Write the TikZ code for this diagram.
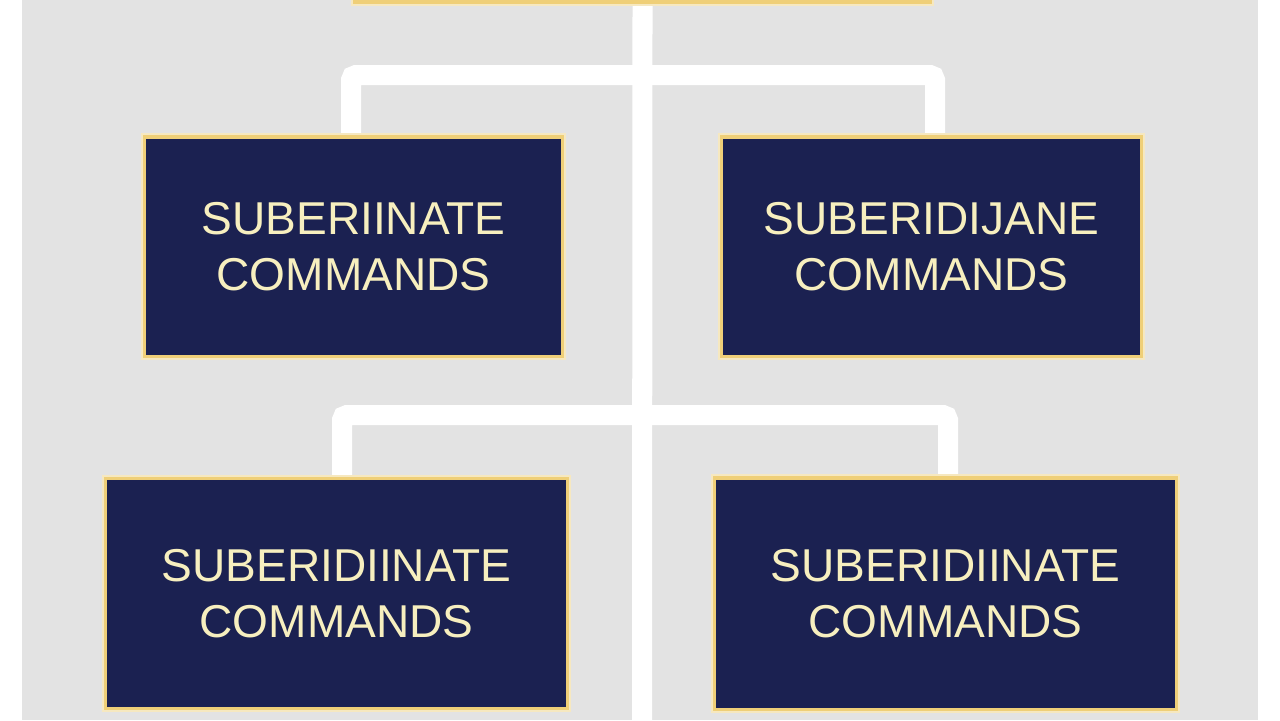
\documentclass[tikz,border=0pt]{standalone}
\usepackage{fontspec}
\setmainfont{Liberation Sans}
\definecolor{panel}{HTML}{E3E3E3}
\definecolor{navy}{HTML}{1B2151}
\definecolor{gold}{HTML}{EFCF78}
\definecolor{goldpale}{HTML}{F6E8C0}
\definecolor{cream}{HTML}{F7EFBF}
\pgfdeclarelayer{bg}
\pgfdeclarelayer{links}
\pgfsetlayers{bg,links,main}
\tikzset{
  box/.style={rectangle, fill=navy, draw=gold, line width=0.9pt,
    preaction={draw=goldpale, line width=2.2pt},
    inner sep=0pt, outer sep=0pt, align=center, text=cream,
    font=\fontsize{13.1}{15.8}\selectfont},
  conn/.style={draw=white, line width=0.2cm, rounded corners=0.05cm, line cap=butt}
}
\begin{document}
\begin{tikzpicture}[x=0.01cm, y=-0.01cm]
\useasboundingbox (0,0) rectangle (1280,720);
\clip (0,0) rectangle (1280,720);
\begin{pgfonlayer}{bg}
\fill[white] (0,0) rectangle (1280,720);
\fill[panel] (22,0) rectangle (1258,720);
\end{pgfonlayer}

% nodes
\node[box, minimum width=5.75cm, minimum height=2cm] (top) at (642.5,-98) {};
\node[box, minimum width=4.17cm, minimum height=2.19cm] (tl) at (353.5,246.5) {SUBERIINATE\\COMMANDS};
\node[box, minimum width=4.19cm, minimum height=2.19cm] (tr) at (931.5,246.5) {SUBERIDIJANE\\COMMANDS};
\node[box, minimum width=4.61cm, minimum height=2.30cm] (bl) at (336.5,593.5) {SUBERIDIINATE\\COMMANDS};
\node[box, minimum width=4.61cm, minimum height=2.31cm] (br) at (945.5,593.5) {SUBERIDIINATE\\COMMANDS};

\coordinate (j1) at (642,75);
\coordinate (j2) at (642,415);
\coordinate (bot) at (642,725);

\begin{pgfonlayer}{links}
\draw[conn] (top.south) -- (bot);
\draw[conn] ([xshift=-0.025cm]tl.north) |- (j1) -| ([xshift=0.035cm]tr.north);
\draw[conn] ([xshift=0.055cm]bl.north) |- (j2) -| ([xshift=0.025cm]br.north);
\end{pgfonlayer}
\end{tikzpicture}
\end{document}
